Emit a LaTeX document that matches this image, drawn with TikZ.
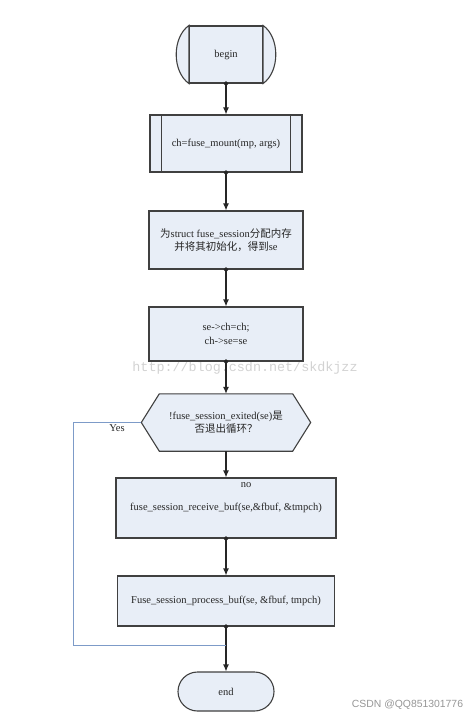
\documentclass[tikz,border=0pt]{standalone}
\usepackage{fontspec}
\setmainfont{Liberation Serif}
\newfontfamily\cjk{Noto Sans CJK SC}
\newfontfamily\wmmono{Liberation Mono}
\newfontfamily\wmsans{Liberation Sans}
\usetikzlibrary{arrows.meta,backgrounds}
\definecolor{edge}{RGB}{64,64,64}
\definecolor{softblue}{RGB}{232,238,247}
\definecolor{loopblue}{RGB}{125,155,200}
\definecolor{wmgray}{RGB}{210,210,210}
\definecolor{csdngray}{RGB}{150,150,150}

\begin{document}
\begin{tikzpicture}[x=1pt,y=-1pt,every node/.style={font=\fontsize{10.5}{13.5}\selectfont,align=center,inner sep=0pt,text=black!85},
    boxline/.style={draw=edge,fill=softblue,line width=1.1pt},
    box/.style={boxline,minimum width=#1},
    flow/.style={-{Latex[length=7pt,width=6pt]},line width=1.1pt,black!85},
    dotflow/.style={flow,{Circle[length=4.5pt]}-{Latex[length=7pt,width=6pt]},shorten <=-2.25pt}]
    \useasboundingbox (0,0) rectangle (474,719);
    % watermarks
    \node[font=\wmmono\fontsize{13.4}{14}\selectfont,text=wmgray] (wmurl) at (245,368) {http://blog.csdn.net/skdkjzz};
    \node[font=\wmsans\fontsize{10.4}{12}\selectfont,text=csdngray] (wmcsdn) at (407.5,705) {CSDN @QQ851301776};
    % terminal with bulged sides
    \node[box=73,minimum height=57] (begin) at (226,54.5) {begin};
    \filldraw[boxline] (begin.north east) .. controls +(17,12) and +(17,-12) .. (begin.south east) -- cycle;
    \filldraw[boxline] (begin.north west) .. controls +(-17,12) and +(-17,-12) .. (begin.south west) -- cycle;
    % predefined process
    \node[box=152,minimum height=57] (mount) at (226,143.5) {ch=fuse\_mount(mp, args)};
    \draw[draw=edge,line width=1.1pt] ([xshift=12pt]mount.north west) -- ([xshift=12pt]mount.south west);
    \draw[draw=edge,line width=1.1pt] ([xshift=-12pt]mount.north east) -- ([xshift=-12pt]mount.south east);
    \node[box=154,minimum height=58] (alloc) at (226,240) {{\cjk 为}struct fuse\_session{\cjk 分配内存}\\{\cjk 并将其初始化，得到}se};
    \node[box=154,minimum height=54] (link) at (226,334) {se->ch=ch;\\ch->se=se};
    % decision
    \node[minimum width=169,minimum height=57] (dec) at (226,422.5) {!fuse\_session\_exited(se){\cjk 是}\\{\cjk 否退出循环？}};
    \begin{scope}[on background layer]
      \filldraw[boxline] (dec.west) -- ([xshift=18pt]dec.north west) -- ([xshift=-18pt]dec.north east) -- (dec.east) -- ([xshift=-18pt]dec.south east) -- ([xshift=18pt]dec.south west) -- cycle;
    \end{scope}
    \node[box=220,minimum height=60] (recv) at (226,508) {fuse\_session\_receive\_buf(se,\&fbuf, \&tmpch)};
    \node (nolab) at (246,485.5) {no};
    \node[box=217,minimum height=50] (proc) at (226,601) {Fuse\_session\_process\_buf(se, \&fbuf, tmpch)};
    \node[box=96,minimum height=39,rounded corners=19.5pt] (finish) at (226,691.5) {end};
    % connectors
    \draw[dotflow] (begin.south) -- (mount.north);
    \draw[dotflow] (mount.south) -- (alloc.north);
    \draw[dotflow] (alloc.south) -- (link.north);
    \draw[dotflow] (link.south) -- (dec.north);
    \draw[flow] (dec.south) -- (recv.north);
    \draw[dotflow] (recv.south) -- (proc.north);
    \draw[dotflow] (proc.south) -- (finish.north);
    % loop back
    \coordinate (loopx) at (73,645);
    \coordinate (join) at (226,645);
    \draw[loopblue,line width=1pt] (dec.west) -| (loopx) -- (join);
    \node (yes) at (117,428) {Yes};
\end{tikzpicture}
\end{document}
